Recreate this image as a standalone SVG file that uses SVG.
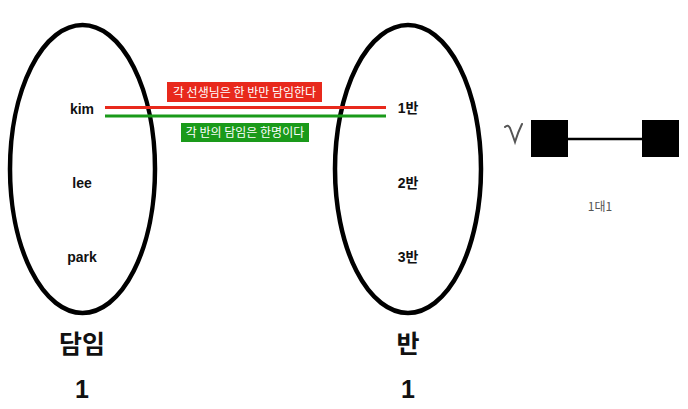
<svg xmlns="http://www.w3.org/2000/svg" width="688" height="409" viewBox="0 0 688 409">
<style>
.ell{fill:none;stroke:#000;stroke-width:4.5}
.t{font-family:"Liberation Sans","Noto Sans CJK KR",sans-serif;font-weight:bold;text-anchor:middle;fill:#111}
.s{font-size:14px}
.b{font-size:25px}
.lbl{font-family:"Noto Sans CJK KR",sans-serif;font-size:12px;fill:#fff;text-anchor:middle}
</style>
<rect width="688" height="409" fill="#fff"/>
<g id="teachers">
<ellipse class="ell" cx="82.5" cy="169" rx="72.5" ry="144"/>
<text class="t s" x="82" y="114">kim</text>
<text class="t s" x="82" y="188">lee</text>
<text class="t s" x="82" y="262">park</text>
<text class="t b" x="82" y="353">담임</text>
<text class="t b" x="82" y="398">1</text>
</g>
<g id="classes">
<ellipse class="ell" cx="408" cy="169" rx="73" ry="144"/>
<text class="t s" x="408" y="113">1반</text>
<text class="t s" x="408" y="188">2반</text>
<text class="t s" x="408" y="262">3반</text>
<text class="t b" x="408" y="353">반</text>
<text class="t b" x="408" y="398">1</text>
</g>
<g id="connectors">
<line x1="105" y1="107.5" x2="386" y2="107.5" stroke="#e8291c" stroke-width="3"/>
<line x1="105" y1="116" x2="386" y2="116" stroke="#1a9a1a" stroke-width="3"/>
</g>
<g id="label-red">
<rect x="167" y="82" width="155" height="20" fill="#e8291c"/>
<text class="lbl" x="244.5" y="96.5">각 선생님은 한 반만 담임한다</text>
</g>
<g id="label-green">
<rect x="181" y="123" width="128" height="19" fill="#1a9a1a"/>
<text class="lbl" x="245" y="137">각 반의 담임은 한명이다</text>
</g>
<g id="legend">
<path d="M505 127 Q508 124 510 128 Q513 136 515 142 Q518 132 522 124" fill="none" stroke="#555" stroke-width="2" stroke-linecap="round"/>
<rect x="531" y="120" width="37" height="37" fill="#000"/>
<rect x="642" y="120" width="37" height="37" fill="#000"/>
<line x1="568" y1="139" x2="642" y2="139" stroke="#000" stroke-width="2.5"/>
<text x="600" y="211" font-family="Noto Sans CJK KR,sans-serif" font-size="12" fill="#555" text-anchor="middle">1대1</text>
</g>
</svg>
